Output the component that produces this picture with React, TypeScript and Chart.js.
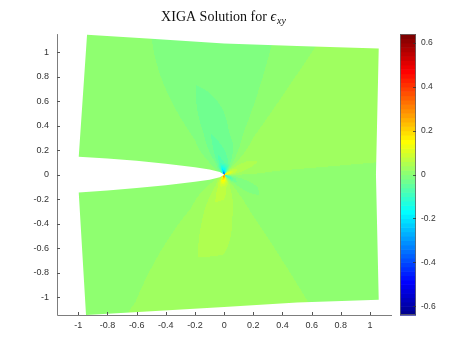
import React, { useEffect, useRef } from "react";
import { Chart, registerables } from "chart.js";

Chart.register(...registerables);

// Deformed plate outline (crack tip at the origin)
const outlineX = [-0.94, -0.5, 0.0, 0.5, 1.06, 1.041, 1.06, 0.5, 0.0, -0.5, -0.947, -0.997, -0.8, -0.6, -0.4, -0.2, -0.1, -0.03, 0.0, -0.03, -0.1, -0.2, -0.4, -0.6, -0.8, -0.997];
const outlineY = [1.14, 1.108, 1.07, 1.05, 1.029, 0.0, -1.018, -1.042, -1.077, -1.112, -1.143, -0.144, -0.128, -0.108, -0.085, -0.058, -0.04, -0.02, 0.0, 0.022, 0.043, 0.062, 0.09, 0.113, 0.132, 0.147];

// Strain field eps_xy sampled around the crack tip: angles (deg) x rings (radius)
const fieldAngles = [-180, -150, -130, -118, -105, -90, -75, -61, -50, -35, -25, -10, 0, 10, 25, 35, 50, 59, 66, 74, 90, 105, 113, 125, 150, 180];
const fieldRadii = [0.008, 0.025, 0.1, 0.35, 1.2];
const fieldCore = [0.0, 0.06, 0.16, 0.28, 0.45, 0.45, 0.3, 0.1, -0.06, -0.24, -0.2, -0.04, 0.1, 0.2, 0.32, 0.24, 0.04, -0.12, -0.24, -0.36, -0.5, -0.55, -0.4, -0.16, 0.0, 0.0];
const fieldTip = [0.0, 0.03, 0.08, 0.14, 0.22, 0.22, 0.15, 0.05, -0.03, -0.12, -0.1, -0.02, 0.05, 0.1, 0.16, 0.12, 0.02, -0.06, -0.12, -0.18, -0.24, -0.26, -0.2, -0.08, 0.0, 0.0];
const fieldNear = [0.01, 0.015, 0.03, 0.05, 0.08, 0.075, 0.05, 0.03, 0.01, -0.022, -0.015, 0.005, 0.02, 0.04, 0.06, 0.05, 0.02, 0.0, -0.02, -0.04, -0.06, -0.075, -0.05, -0.01, 0.01, 0.01];
const fieldMid = [0.01, 0.012, 0.02, 0.035, 0.05, 0.048, 0.035, 0.022, 0.01, 0.004, 0.005, 0.008, 0.015, 0.025, 0.033, 0.03, 0.025, 0.018, 0.005, -0.01, -0.025, -0.04, -0.02, 0.0, 0.01, 0.01];
const fieldFar = [0.01, 0.01, 0.012, 0.022, 0.032, 0.032, 0.03, 0.02, 0.012, 0.008, 0.008, 0.008, 0.015, 0.024, 0.028, 0.028, 0.028, 0.02, 0.01, -0.001, -0.008, -0.008, -0.001, 0.008, 0.01, 0.01];

const axisLimitsX = [-1.146, 1.151];
const axisLimitsY = [-1.143, 1.146];
const colorLimits = [-0.64, 0.64];
const tickStep = 0.2;
const colormapSize = 64;

const titleMain = "XIGA Solution for ";
const titleSymbol = "\u03F5";
const titleSub = "xy";

function jetColormap(m: number): number[][] {
  const n = Math.ceil(m / 4);
  const u: number[] = [];
  for (let i = 1; i <= n; i++) u.push(i / n);
  for (let i = 1; i < n; i++) u.push(1);
  for (let i = n; i >= 1; i--) u.push(i / n);
  const g0 = Math.ceil(n / 2) - (m % 4 === 1 ? 1 : 0);
  const J = Array.from({ length: m }, () => [0, 0, 0]);
  for (let k = 0; k < u.length; k++) {
    const g = g0 + k + 1;
    const r = g + n;
    const b = g - n;
    if (r >= 1 && r <= m) J[r - 1][0] = u[k];
    if (g >= 1 && g <= m) J[g - 1][1] = u[k];
    if (b >= 1 && b <= m) J[b - 1][2] = u[k];
  }
  return J.map((c) => c.map((v) => Math.round(v * 255)));
}

const rings = [fieldCore, fieldTip, fieldNear, fieldMid, fieldFar];

function sampleField(x: number, y: number): number {
  const r = Math.max(Math.hypot(x, y), 1e-6);
  const th = (Math.atan2(y, x) * 180) / Math.PI;
  let i = 0;
  while (i < fieldAngles.length - 2 && th > fieldAngles[i + 1]) i++;
  const ta = Math.min(1, Math.max(0, (th - fieldAngles[i]) / (fieldAngles[i + 1] - fieldAngles[i])));
  let k = 0;
  let tr = 0;
  const nR = fieldRadii.length;
  if (r <= fieldRadii[0]) { k = 0; tr = 0; }
  else if (r >= fieldRadii[nR - 1]) { k = nR - 2; tr = 1; }
  else {
    while (k < nR - 2 && r > fieldRadii[k + 1]) k++;
    tr = (Math.log(r) - Math.log(fieldRadii[k])) / (Math.log(fieldRadii[k + 1]) - Math.log(fieldRadii[k]));
  }
  const a = rings[k][i] * (1 - ta) + rings[k][i + 1] * ta;
  const b = rings[k + 1][i] * (1 - ta) + rings[k + 1][i + 1] * ta;
  return a * (1 - tr) + b * tr;
}

const cmap = jetColormap(colormapSize);

const fieldPlugin = {
  id: "strainField",
  beforeDatasetsDraw(chart: any) {
    const { ctx, chartArea: ca, scales } = chart;
    const xs = scales.x;
    const ys = scales.y;
    const w = Math.round(ca.right - ca.left);
    const h = Math.round(ca.bottom - ca.top);
    const off = document.createElement("canvas");
    off.width = w;
    off.height = h;
    const octx = off.getContext("2d")!;
    const img = octx.createImageData(w, h);
    const [cmin, cmax] = colorLimits;
    for (let py = 0; py < h; py++) {
      const yv = ys.getValueForPixel(ca.top + py + 0.5);
      for (let px = 0; px < w; px++) {
        const xv = xs.getValueForPixel(ca.left + px + 0.5);
        const v = sampleField(xv, yv);
        let idx = Math.floor(((v - cmin) / (cmax - cmin)) * colormapSize);
        idx = Math.max(0, Math.min(colormapSize - 1, idx));
        const c = cmap[idx];
        const o = (py * w + px) * 4;
        img.data[o] = c[0];
        img.data[o + 1] = c[1];
        img.data[o + 2] = c[2];
        img.data[o + 3] = 255;
      }
    }
    octx.putImageData(img, 0, 0);
    ctx.save();
    ctx.beginPath();
    outlineX.forEach((xv, i) => {
      const px = xs.getPixelForValue(xv);
      const py = ys.getPixelForValue(outlineY[i]);
      if (i === 0) ctx.moveTo(px, py);
      else ctx.lineTo(px, py);
    });
    ctx.closePath();
    ctx.clip();
    ctx.drawImage(off, ca.left, ca.top);
    ctx.restore();
  },
  afterDraw(chart: any) {
    const { ctx, chartArea: ca, scales } = chart;
    const xs = scales.x;
    const ys = scales.y;
    const cb = scales.cb;
    ctx.save();
    // axes lines
    ctx.strokeStyle = "#7d7d7d";
    ctx.lineWidth = 1;
    ctx.beginPath();
    ctx.moveTo(ca.left + 0.5, ca.top);
    ctx.lineTo(ca.left + 0.5, ca.bottom + 0.5);
    ctx.lineTo(ca.right, ca.bottom + 0.5);
    ctx.stroke();
    // ticks (inward)
    ctx.strokeStyle = "#555";
    ctx.beginPath();
    xs.ticks.forEach((t: any) => {
      const px = Math.round(xs.getPixelForValue(t.value)) + 0.5;
      ctx.moveTo(px, ca.bottom);
      ctx.lineTo(px, ca.bottom - 3);
    });
    ys.ticks.forEach((t: any) => {
      const py = Math.round(ys.getPixelForValue(t.value)) + 0.5;
      ctx.moveTo(ca.left, py);
      ctx.lineTo(ca.left + 3, py);
    });
    ctx.stroke();
    // colorbar
    const bx = ca.right + 8;
    const bw = 16;
    const [cmin, cmax] = colorLimits;
    for (let i = 0; i < colormapSize; i++) {
      const v0 = cmin + ((cmax - cmin) * i) / colormapSize;
      const v1 = cmin + ((cmax - cmin) * (i + 1)) / colormapSize;
      const y0 = cb.getPixelForValue(v0);
      const y1 = cb.getPixelForValue(v1);
      const c = cmap[i];
      ctx.fillStyle = `rgb(${c[0]},${c[1]},${c[2]})`;
      ctx.fillRect(bx, y1, bw, y0 - y1 + 0.6);
    }
    ctx.strokeStyle = "#666";
    ctx.lineWidth = 0.8;
    ctx.strokeRect(bx + 0.5, cb.top + 0.5, bw - 1, cb.bottom - cb.top - 1);
    ctx.strokeStyle = "#333";
    ctx.beginPath();
    cb.ticks.forEach((t: any) => {
      const py = Math.round(cb.getPixelForValue(t.value)) + 0.5;
      ctx.moveTo(bx + bw, py);
      ctx.lineTo(bx + bw - 3, py);
    });
    ctx.stroke();
    // title
    ctx.fillStyle = "#111";
    ctx.textBaseline = "alphabetic";
    ctx.textAlign = "left";
    const mainFont = '14px "Liberation Serif", "Times New Roman", serif';
    const symFont = 'italic 14px "Liberation Serif", "Times New Roman", serif';
    const subFont = 'italic 10px "Liberation Serif", "Times New Roman", serif';
    ctx.font = mainFont;
    const w1 = ctx.measureText(titleMain).width;
    ctx.font = symFont;
    const w2 = ctx.measureText(titleSymbol).width;
    ctx.font = subFont;
    const w3 = ctx.measureText(titleSub).width;
    const total = w1 + w2 + w3 + 1;
    const cx = (ca.left + ca.right) / 2 - 1;
    let x0 = cx - total / 2;
    const base = 21;
    ctx.font = mainFont;
    ctx.fillText(titleMain, x0, base);
    x0 += w1;
    ctx.font = symFont;
    ctx.fillText(titleSymbol, x0, base);
    x0 += w2 + 1;
    ctx.font = subFont;
    ctx.fillText(titleSub, x0, base + 3);
    ctx.restore();
  },
};

const tickFont = { family: '"Liberation Sans", Arial, sans-serif', size: 9 };
const formatTick = (v: any) => String(Math.round(Number(v) * 10) / 10);

export default function App() {
  const ref = useRef<HTMLCanvasElement | null>(null);
  useEffect(() => {
    if (!ref.current) return;
    const chart = new Chart(ref.current, {
      type: "scatter",
      data: {
        datasets: [
          {
            data: outlineX.map((x, i) => ({ x, y: outlineY[i] })),
            showLine: true,
            borderWidth: 0,
            borderColor: "rgba(0,0,0,0)",
            pointRadius: 0,
            fill: false,
          },
        ],
      },
      options: {
        animation: false,
        responsive: true,
        maintainAspectRatio: false,
        layout: { padding: { top: 27, left: 0, right: 0, bottom: 0 } },
        plugins: {
          legend: { display: false },
          title: { display: false },
          tooltip: { enabled: false },
        },
        scales: {
          x: {
            type: "linear",
            position: "bottom",
            min: axisLimitsX[0],
            max: axisLimitsX[1],
            ticks: { stepSize: tickStep, includeBounds: false, padding: 5, color: "#333", font: tickFont, maxRotation: 0, autoSkip: false, callback: formatTick },
            grid: { display: false, drawTicks: false },
            border: { display: false },
            afterFit: (s: any) => { s.height = 40; },
          },
          y: {
            type: "linear",
            position: "left",
            min: axisLimitsY[0],
            max: axisLimitsY[1],
            ticks: { stepSize: tickStep, includeBounds: false, padding: 8, color: "#333", font: tickFont, autoSkip: false, callback: formatTick },
            grid: { display: false, drawTicks: false },
            border: { display: false },
            afterFit: (s: any) => { s.width = 57; },
          },
          cb: {
            type: "linear",
            position: "right",
            display: true,
            min: colorLimits[0],
            max: colorLimits[1],
            ticks: { stepSize: tickStep, includeBounds: false, padding: 29, color: "#333", font: { ...tickFont, size: 8.5 }, autoSkip: false, callback: formatTick },
            grid: { display: false, drawTicks: false },
            border: { display: false },
            afterFit: (s: any) => { s.width = 82; },
          },
        },
      } as any,
      plugins: [fieldPlugin],
    });
    return () => chart.destroy();
  }, []);
  return (
    <div style={{ position: "fixed", left: 0, top: 0, width: 474, height: 355, background: "#fff" }}>
      <canvas ref={ref} />
    </div>
  );
}
